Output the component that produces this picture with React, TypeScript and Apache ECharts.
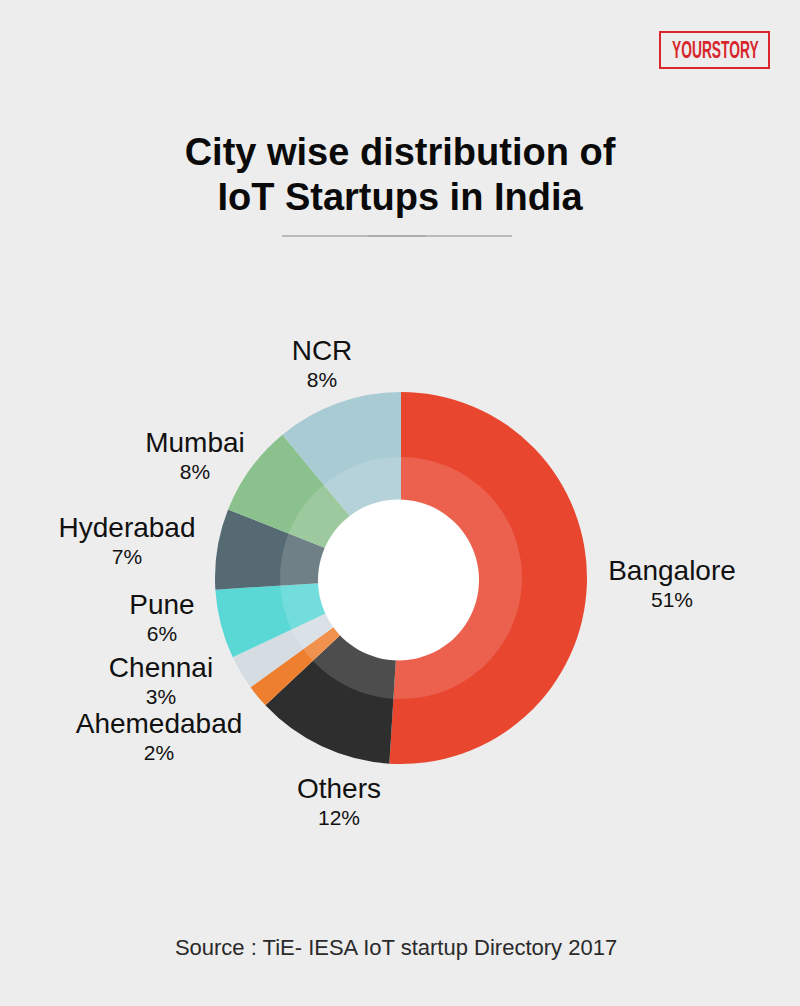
import React, { useEffect, useRef } from "react";
import * as echarts from "echarts";

// ---- Data ----
const CITIES = ["Bangalore", "Others", "Ahemedabad", "Chennai", "Pune", "Hyderabad", "Mumbai", "NCR"];
// angular shares as drawn in the donut
const SHARES = [51, 12, 2, 3, 6, 7, 8, 11];
// percentages as printed on the labels
const PRINTED_PCT = ["51%", "12%", "2%", "3%", "6%", "7%", "8%", "8%"];
const COLORS = ["#E8462F", "#2E2E2E", "#EE7F2E", "#D5DDE3", "#5AD8D6", "#566A73", "#8BC18D", "#A8CBD4"];

// ---- Layout (not data) ----
const CENTER: [number, number] = [401, 578];
const LABEL_CENTERS: [number, number][] = [
  [672, 584],
  [339, 802],
  [159, 737],
  [161, 681],
  [162, 618],
  [127, 541],
  [195, 456],
  [322, 364],
];
const FONT = "'Liberation Sans', Arial, Helvetica, sans-serif";

export default function App() {
  const ref = useRef<HTMLDivElement>(null);
  useEffect(() => {
    if (!ref.current) return;
    const chart = echarts.init(ref.current, undefined, { renderer: "svg" });
    const data = CITIES.map((name, i) => ({
      name,
      value: SHARES[i],
      itemStyle: { color: COLORS[i] },
    }));
    chart.setOption({
      animation: false,
      backgroundColor: "#EDEDED",
      title: [
        {
          text: "City wise distribution of\nIoT Startups in India",
          left: "center",
          top: 129,
          padding: 0,
          textStyle: {
            fontFamily: FONT,
            fontWeight: "bold",
            fontSize: 38,
            lineHeight: 45,
            color: "#0a0a0a",
          },
        },
      ],
      series: [
        {
          type: "pie",
          center: CENTER,
          radius: [70, 186],
          startAngle: 90,
          clockwise: true,
          silent: true,
          avoidLabelOverlap: false,
          itemStyle: { borderWidth: 0 },
          emphasis: { disabled: true },
          labelLine: { show: false },
          label: {
            show: true,
            position: "outside",
            formatter: (p: any) => `{n|${p.name}}\n{p|${PRINTED_PCT[p.dataIndex]}}`,
            rich: {
              n: { fontFamily: FONT, fontSize: 28, lineHeight: 30, color: "#111", align: "center" },
              p: { fontFamily: FONT, fontSize: 21, lineHeight: 28, color: "#111", align: "center" },
            },
          },
          labelLayout: (params: any) => {
            const c = LABEL_CENTERS[params.dataIndex];
            return { x: c[0], y: c[1], align: "center", verticalAlign: "middle" };
          },
          data,
        },
        {
          type: "pie",
          center: CENTER,
          radius: [70, 121],
          startAngle: 90,
          clockwise: true,
          silent: true,
          z: 3,
          itemStyle: { borderWidth: 0, color: "rgba(255,255,255,0.15)" },
          emphasis: { disabled: true },
          label: { show: false },
          labelLine: { show: false },
          data: CITIES.map((name, i) => ({ name, value: SHARES[i] })),
        },
      ],
      graphic: [
        {
          type: "circle",
          z: 100,
          shape: { cx: 398.5, cy: 580, r: 80.5 },
          style: { fill: "#ffffff" },
        },
        {
          type: "line",
          z: 100,
          shape: { x1: 282, y1: 236, x2: 512, y2: 236 },
          style: { stroke: "#8a8a8a", lineWidth: 1 },
        },
        {
          type: "line",
          z: 101,
          shape: { x1: 368, y1: 236, x2: 426, y2: 236 },
          style: { stroke: "#a8a8a8", lineWidth: 1.5 },
        },
        {
          type: "rect",
          z: 100,
          shape: { x: 660, y: 32, width: 109, height: 36 },
          style: { fill: "none", stroke: "#D8262C", lineWidth: 2 },
        },
        {
          type: "text",
          z: 100,
          x: 672,
          y: 50,
          scaleX: 0.6,
          style: {
            text: "YOURSTORY",
            fill: "#D8262C",
            font: `bold 23px ${FONT}`,
            textAlign: "left",
            textVerticalAlign: "middle",
          },
        },
        {
          type: "text",
          z: 100,
          x: 396,
          y: 947,
          style: {
            text: "Source : TiE- IESA IoT startup Directory 2017",
            fill: "#2a2a2a",
            font: `22px ${FONT}`,
            textAlign: "center",
            textVerticalAlign: "middle",
          },
        },
      ],
    });
    return () => chart.dispose();
  }, []);
  return (
    <div
      ref={ref}
      style={{ position: "absolute", left: 0, top: 0, width: 800, height: 1006 }}
    />
  );
}
